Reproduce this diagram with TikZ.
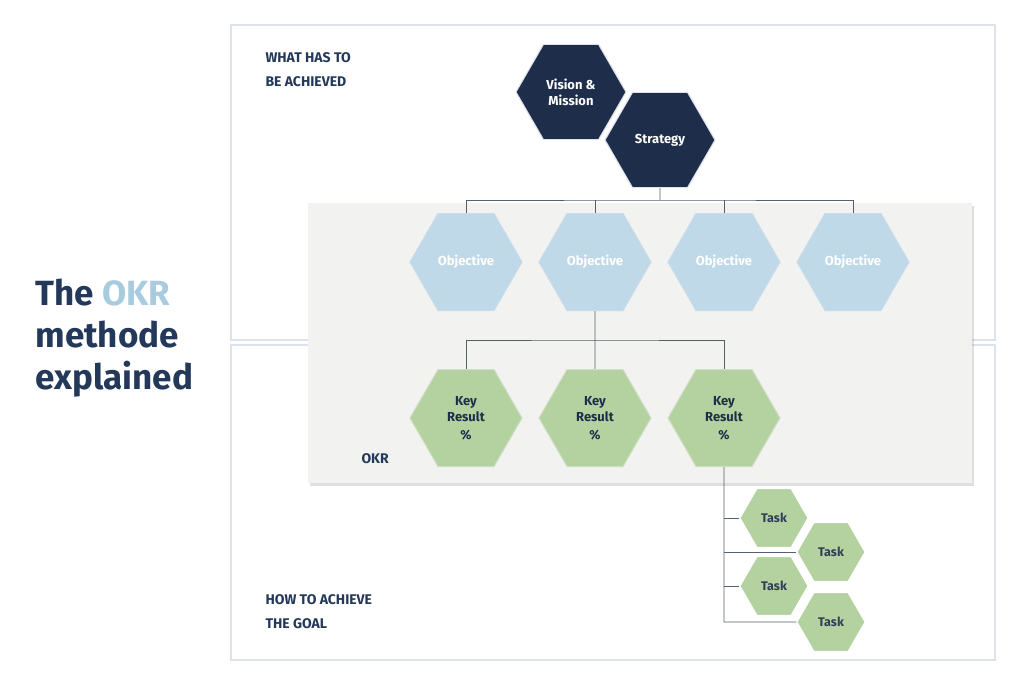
\documentclass[tikz,border=0pt]{standalone}
\usepackage{fontspec}
\setmainfont{Fira Sans}
\usetikzlibrary{shapes.geometric,shadows}
\definecolor{navy}{HTML}{1E2D4A}
\definecolor{title}{HTML}{24395A}
\definecolor{okrblue}{HTML}{A9CBE0}
\definecolor{objfill}{HTML}{BFD9E9}
\definecolor{objline}{HTML}{A3C3D8}
\definecolor{krfill}{HTML}{B3D2A0}
\definecolor{krline}{HTML}{9DBF88}
\definecolor{frame}{HTML}{DDE2EA}
\definecolor{panel}{HTML}{F2F2F1}
\definecolor{conn}{HTML}{55606E}
\begin{document}
\begin{tikzpicture}[x=1pt,y=-1pt,
  hex/.style={regular polygon,regular polygon sides=6,inner sep=0pt,align=center,font=\bfseries\fontsize{13}{16}\selectfont,line width=1pt},
  dark/.style={hex,minimum size=110pt,fill=navy,draw=frame,text=white},
  obj/.style={hex,minimum size=112pt,fill=objfill,draw=objline!60,text=white},
  kr/.style={hex,minimum size=112pt,fill=krfill,draw=krline!50,text=navy},
  task/.style={hex,minimum size=68pt,fill=krfill,draw=white,text=navy!80!gray,font=\bfseries\fontsize{12.5}{15}\selectfont},
  con/.style={draw=conn,line width=0.8pt},
  lab/.style={anchor=west,align=left,text=title,font=\bfseries\fontsize{14}{24}\selectfont}]
\useasboundingbox (0,0) rectangle (1024,683);
\fill[white] (0,0) rectangle (1024,683);
% frames
\draw[frame,line width=2pt] (231,25) rectangle (995,340);
\draw[frame,line width=2pt] (231,345) rectangle (995,660);
% panel
\fill[panel,drop shadow={shadow xshift=2pt,shadow yshift=-3pt,opacity=0.25}] (308,203) rectangle (972,483);
% title
\node[anchor=west,align=left,text=title,font=\bfseries\fontsize{35}{42}\selectfont] (t) at (32,338) {The \textcolor{okrblue}{OKR}\\methode\\explained};
\node[lab] (w) at (262,70) {WHAT HAS TO\\BE ACHIEVED};
\node[lab] (h) at (262,612) {HOW TO ACHIEVE\\THE GOAL};
\node[lab] (okr) at (358,459) {OKR};
% hexes
\node[dark] (vm) at (571,92) {Vision \&\\Mission};
\node[dark] (st) at (660,140) {Strategy};
\foreach \i/\x in {1/466,2/595,3/724,4/853}
  \node[obj] (o\i) at (\x,262) {Objective};
\foreach \i/\x in {1/466,2/595,3/724}
  \node[kr] (k\i) at (\x,418) {Key\\Result\\[2pt]\%};
\node[task] (t1) at (774,518) {Task};
\node[task] (t2) at (831,552) {Task};
\node[task] (t3) at (774,586) {Task};
\node[task] (t4) at (831,622) {Task};
% connectors
\coordinate (a) at (660,200);
\draw[con] (st.south) -- (a);
\draw[con] (o1.north) |- (a) -| (o4.north);
\draw[con] (o2.north) -- (o2.north|-a);
\draw[con] (o3.north) -- (o3.north|-a);
\coordinate (b) at (595,340);
\draw[con] (o2.south) -- (b);
\draw[con] (k1.north) |- (b) -| (k3.north);
\draw[con] (k2.north) -- (b);
\coordinate (c) at (724,622);
\draw[con] (k3.south) -- (c) -- (t4.west);
\draw[con] (t1.west) -- (t1.west-|c);
\draw[con] (t2.west) -- (t2.west-|c);
\draw[con] (t3.west) -- (t3.west-|c);
\end{tikzpicture}
\end{document}
